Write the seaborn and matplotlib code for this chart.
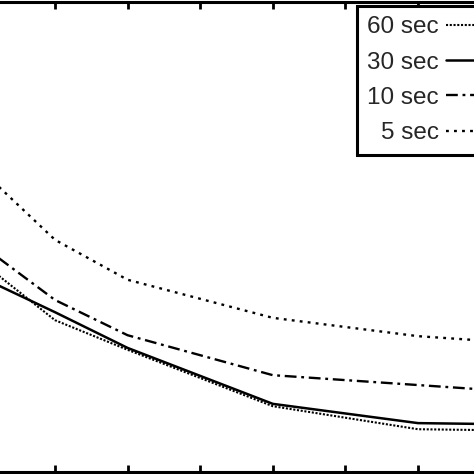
import matplotlib
matplotlib.use("Agg")
import matplotlib.pyplot as plt
import seaborn as sns
import pandas as pd

# data (x in tick units, y in arbitrary units 0-10)
x_vals = [0, 1, 2, 4, 6, 8]
y_60 = [4.45, 3.23, 2.60, 1.40, 0.91, 0.87]
y_30 = [4.13, 3.40, 2.64, 1.45, 1.04, 1.00]
y_10 = [4.81, 3.66, 2.91, 2.06, 1.85, 1.64]
y_5 = [6.40, 4.94, 4.09, 3.28, 2.89, 2.68]
labels = ["60 sec", "30 sec", "10 sec", "5 sec"]
x_ticks = [1, 2, 3, 4, 5, 6, 7]

sns.set_theme(style="ticks")
plt.rcParams['font.family'] = ['Liberation Sans', 'DejaVu Sans']

fig = plt.figure(figsize=(4.74, 4.74), dpi=100)
# the original is a crop, so the axes run past the left and right edges
ax = fig.add_axes([-17.6 / 474, 2 / 474, (563.2 + 17.6) / 474, 470 / 474])

styles = [(0, (1, 0.8)), '-', (0, (5, 2, 1.2, 2)), (0, (1.2, 2.2))]
widths = [1.5, 1.8, 1.7, 1.7]
series = [y_60, y_30, y_10, y_5]

for ys, lab, ls, lw in zip(series, labels, styles, widths):
    df = pd.DataFrame({'x': x_vals, 'y': ys})
    sns.lineplot(data=df, x='x', y='y', ax=ax, color='black', linestyle=ls,
                 linewidth=lw, label=lab, sort=False)

ax.set_xlim(0, 8)
ax.set_ylim(0, 10)
ax.set_xticks(x_ticks)
ax.set_xlabel('')
ax.set_ylabel('')
ax.tick_params(axis='both', direction='in', length=5, width=2,
               top=True, right=True, labelbottom=False, labelleft=False,
               color='black')
for sp in ax.spines.values():
    sp.set_linewidth(2.2)
    sp.set_color('black')

leg = ax.legend(loc='upper left', bbox_to_anchor=(357 / 474, 1 - 6 / 474),
                bbox_transform=fig.transFigure, borderaxespad=0,
                markerfirst=False, fontsize=17.5, frameon=True, fancybox=False,
                labelspacing=0.55, handlelength=2.0, handletextpad=0.3,
                borderpad=0.42)
leg.get_frame().set_edgecolor('black')
leg.get_frame().set_linewidth(2.2)
leg.get_frame().set_alpha(1)

fig.savefig('out.png', dpi=100)
